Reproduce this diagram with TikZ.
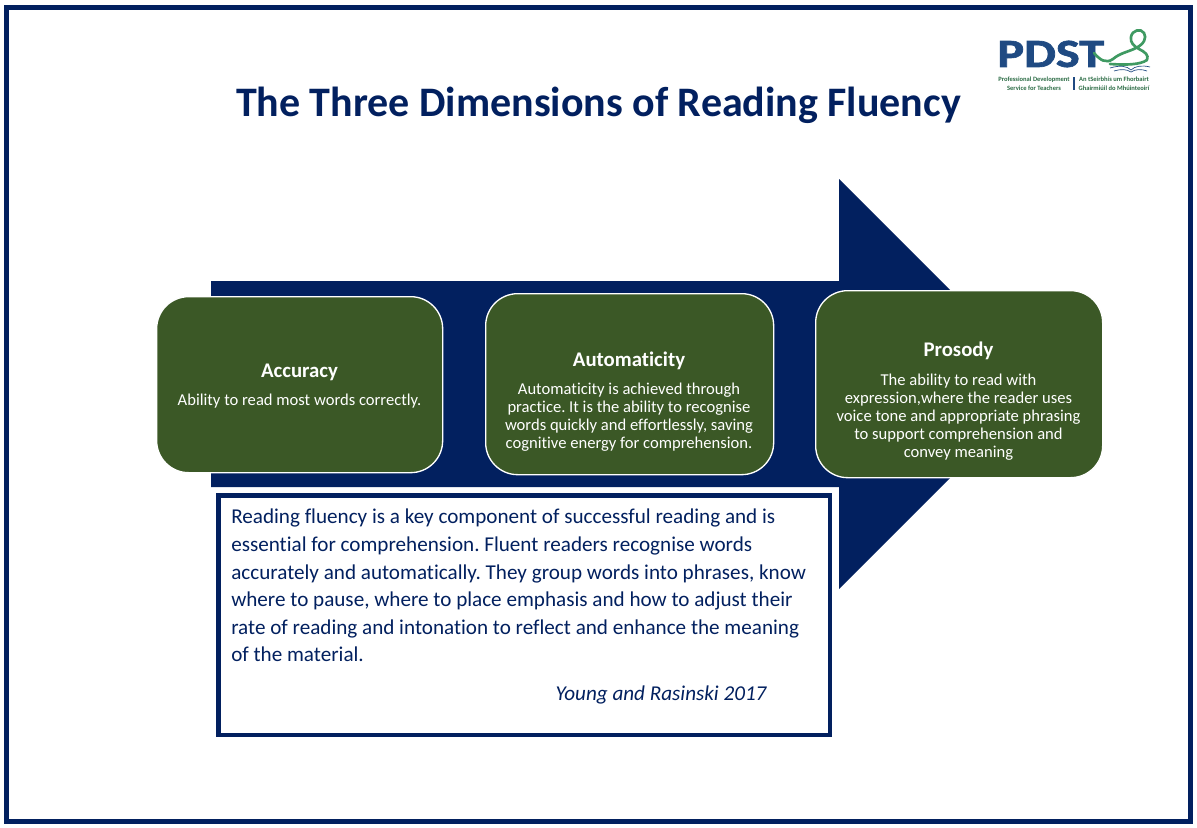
\documentclass[tikz,border=0pt]{standalone}
\usepackage{fontspec}
\setmainfont[Ligatures=NoCommon]{Carlito}
\newfontfamily\logofont[FakeBold=1.6]{Carlito Bold}
\definecolor{navy}{HTML}{02205F}
\definecolor{moss}{HTML}{3B5826}
\definecolor{logoblue}{HTML}{1F4A82}
\definecolor{logogreen}{HTML}{3F9A62}
\frenchspacing
\begin{document}
\begin{tikzpicture}[x=0.75pt,y=-0.75pt,
  card/.style={draw=white,line width=1pt,fill=moss,rounded corners=24pt,text=white,align=center,inner sep=0pt,anchor=north west},
  cardhead/.style={font=\fontsize{15.6}{17}\selectfont\bfseries,text=white},
  cardbody/.style={font=\fontsize{12.45}{13.5}\selectfont,text=white,align=center},
  para/.style={font=\fontsize{15.85}{20.7}\selectfont,text=navy,align=left,anchor=north west,inner sep=0pt},
  tiny/.style={font=\fontsize{4.9}{6.8}\selectfont\bfseries,inner sep=0pt,align=center}]
\useasboundingbox (0,0) rectangle (1197,828);
\fill[white] (0,0) rectangle (1197,828);
\node[draw=navy,line width=3.75pt,minimum width=1184pt*0.75,minimum height=814pt*0.75,inner sep=0pt] (frame) at (598,414) {};
\node[font=\fontsize{31.5}{36}\selectfont\bfseries,text=navy,inner sep=0pt] (title) at (598.5,105) {The Three Dimensions of Reading Fluency};
% arrow
\fill[navy] (211,281) -- (839,281) -- (839,179) -- (1044,384) -- (839,589) -- (839,487) -- (211,487) -- cycle;
% cards
\node[card,minimum width=286pt*0.75,minimum height=176pt*0.75] (acc) at (156,296) {};
\node[card,minimum width=288pt*0.75,minimum height=181pt*0.75] (aut) at (485,293) {};
\node[card,minimum width=287pt*0.75,minimum height=187pt*0.75] (pro) at (815,290) {};
\node[cardhead] (acch) at (299.5,372) {Accuracy};
\node[cardbody] (accb) at (299.5,401) {Ability to read most words correctly.};
\node[cardhead] (auth) at (629,361) {Automaticity};
\node[cardbody] (autb) at (629,417) {Automaticity is achieved through\\practice. It is the ability to recognise\\words quickly and effortlessly, saving\\cognitive energy for comprehension.};
\node[cardhead] (proh) at (958.5,351) {Prosody};
\node[cardbody] (prob) at (958.5,417) {The ability to read with\\expression,where the reader uses\\voice tone and appropriate phrasing\\to support comprehension and\\convey meaning};
% quote box
\node[draw=navy,fill=white,line width=3.4pt,anchor=north west,minimum width=611.5pt*0.75,minimum height=239.5pt*0.75,inner sep=0pt] (quote) at (216,493) {};
\node[para] (quotetext) at (231,509) {Reading fluency is a key component of successful reading and is\\essential for comprehension. Fluent readers recognise words\\accurately and automatically. They group words into phrases, know\\where to pause, where to place emphasis and how to adjust their\\rate of reading and intonation to reflect and enhance the meaning\\of the material.};
\node[font=\fontsize{15.85}{18}\selectfont\itshape,text=navy,inner sep=0pt] (cite) at (661,695) {Young and Rasinski 2017};
% logo
\node[font=\fontsize{30}{36}\logofont,text=logoblue,inner sep=0pt,anchor=west,xscale=1.26] (pdst) at (997,54) {PDST};
\draw[logogreen,line width=2pt,line cap=round] (1094,53) .. controls (1100,60) and (1106,64) .. (1113,59) .. controls (1120,53) and (1128,52) .. (1136,48) .. controls (1144,44) and (1147,38) .. (1144,33) .. controls (1141,28) and (1132,30) .. (1131,37) .. controls (1130,43) and (1134,46) .. (1139,49) .. controls (1145,52) and (1149,55) .. (1147,60);
\draw[logogreen,line width=2pt,line cap=round] (1147,60) .. controls (1140,65) and (1125,65) .. (1110,64);
\draw[logoblue,line width=0.5pt] (1110,68) .. controls (1120,65) and (1127,66) .. (1131,70) .. controls (1135,66) and (1142,65) .. (1150,67);
\draw[logoblue,line width=0.5pt] (1114,71) .. controls (1120,69) and (1127,69) .. (1131,72) .. controls (1135,69) and (1142,69) .. (1147,71);
\node[tiny,text=logogreen!70!black] (logol) at (1034,83.5) {Professional Development\\Service for Teachers};
\node[tiny,text=logogreen!70!black] (logor) at (1114,83.5) {An tSeirbhís um Fhorbairt\\Ghairmiúil do Mhúinteoirí};
\fill[logoblue] (1073.4,77) rectangle (1074.8,90);
\end{tikzpicture}
\end{document}
